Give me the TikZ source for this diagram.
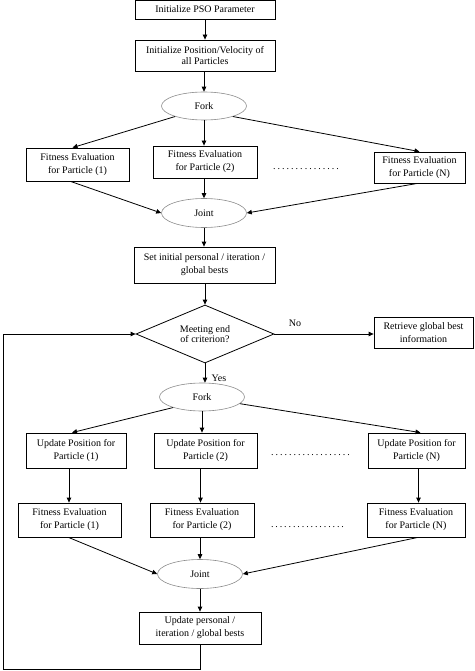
\documentclass[tikz,border=0pt]{standalone}
\usepackage{fontspec}
\setmainfont{Liberation Serif}
\usetikzlibrary{shapes.geometric,arrows.meta,calc}
\newcommand{\dotrow}[1]{\makebox[#1]{\xleaders\hbox to 4.3pt{\hss.\hss}\hfill}}
\begin{document}
\begin{tikzpicture}[x=1pt,y=-1pt,
  every node/.style={font=\fontsize{10}{13}\selectfont, align=center, inner sep=1pt},
  tight/.style={font=\fontsize{10}{11}\selectfont},
  box/.style={draw, line width=0.8pt, minimum width=#1, minimum height=32pt},
  oval/.style={ellipse, draw=black!45, line width=0.6pt, minimum width=85pt, minimum height=28pt},
  arr/.style={line width=0.8pt, -{Triangle[length=5pt,width=4.5pt]}},
  ln/.style={line width=0.8pt}]
\useasboundingbox (0,0) rectangle (474,671);
\node[box=140pt, minimum height=19pt] (init) at (205,9.5) {Initialize PSO Parameter};
\node[box=140pt, minimum height=31pt, tight] (initpos) at (205,55.5) {Initialize Position/Velocity of\\all Particles};
\node[oval] (fork1) at (204,106) {Fork};
\node[box=103pt, minimum height=33pt] (fe1) at (77.5,164.5) {Fitness Evaluation\\for Particle (1)};
\node[box=104pt] (fe2) at (205,162) {Fitness Evaluation\\for Particle (2)};
\node[box=91pt, minimum height=31pt] (feN) at (419.5,167.5) {Fitness Evaluation\\for Particle (N)};
\node (dots1) at (306,169) {\dotrow{68pt}};
\node[oval, minimum height=29pt] (joint1) at (204,213) {Joint};
\node[box=141pt, minimum height=36pt] (setinit) at (204.5,265) {Set initial personal / iteration /\\global bests};
\node[diamond, draw, line width=0.8pt, minimum width=138pt, minimum height=58pt, inner sep=0pt, aspect=2.4, font=\fontsize{10}{10.5}\selectfont] (crit) at (205,334) {Meeting end\\of criterion?};
\node (no) at (295,323) {No};
\node[box=99pt, minimum height=31pt] (retr) at (423.5,333) {Retrieve global best\\information};
\node (yes) at (219,378) {Yes};
\node[oval] (fork2) at (202,397) {Fork};
\node[box=100pt, minimum height=35pt] (up1) at (76,450.5) {Update Position for\\Particle (1)};
\node[box=103pt, minimum height=35pt] (up2) at (205.5,450.5) {Update Position for\\Particle (2)};
\node[box=97pt, minimum height=35pt] (upN) at (416.5,450.5) {Update Position for\\Particle (N)};
\node (dots2) at (310.5,455) {\dotrow{81pt}};
\node[box=103pt, minimum height=34pt] (fe1b) at (69.5,520) {Fitness Evaluation\\for Particle (1)};
\node[box=104pt, minimum height=34pt] (fe2b) at (202,520) {Fitness Evaluation\\for Particle (2)};
\node[box=98pt, minimum height=34pt] (feNb) at (416,520) {Fitness Evaluation\\for Particle (N)};
\node (dots3) at (307.5,527) {\dotrow{75pt}};
\node[oval, minimum height=29pt] (joint2) at (200,574) {Joint};
\node[box=122pt, minimum height=32pt] (upbest) at (200,628) {Update personal /\\iteration / global bests};
\coordinate (lb) at (3,669);
% connectors
\draw[arr] (init) -- (initpos);
\draw[arr] (initpos.south -| fork1) -- (fork1);
\draw[arr] (fork1.200) -- ([xshift=-5pt]fe1.north);
\draw[arr] (fork1.south) -- (fork1.south |- fe2.north);
\draw[arr] (fork1.340) -- (feN.north);
\draw[arr] ([xshift=-7pt]fe1.south) -- (joint1.west);
\draw[arr] (fe2.south -| joint1) -- (joint1);
\draw[arr] ([xshift=-2pt]feN.south) -- (joint1.east);
\draw[arr] (joint1) -- (joint1 |- setinit.north);
\draw[arr] (setinit.south -| crit) -- (crit.north);
\draw[arr] (crit.east) -- (crit.east -| retr.west);
\draw[arr] (crit.south) -- (fork2.north -| crit.south);
\draw[arr] (fork2.200) -- ([xshift=-4pt]up1.north);
\draw[arr] (fork2.south) -- (fork2.south |- up2.north);
\draw[arr] (fork2.350) -- ([xshift=4pt]upN.north);
\draw[arr] ([xshift=-7pt]up1.south) -- ([xshift=-7pt]up1.south |- fe1b.north);
\draw[arr] ([xshift=-5pt]up2.south) -- ([xshift=-5pt]up2.south |- fe2b.north);
\draw[arr] ([xshift=2pt]upN.south) -- ([xshift=2pt]upN.south |- feNb.north);
\draw[arr] ([xshift=-1pt]fe1b.south) -- (joint2.west);
\draw[arr] (fe2b.south -| joint2) -- (joint2);
\draw[arr] ([xshift=2pt]feNb.south) -- (joint2.east);
\draw[arr] (joint2) -- (joint2 |- upbest.north);
\draw[arr] (upbest.south) -- (upbest.south |- lb) -- (lb) -- (lb |- crit.west) -- (crit.west);
\end{tikzpicture}
\end{document}
